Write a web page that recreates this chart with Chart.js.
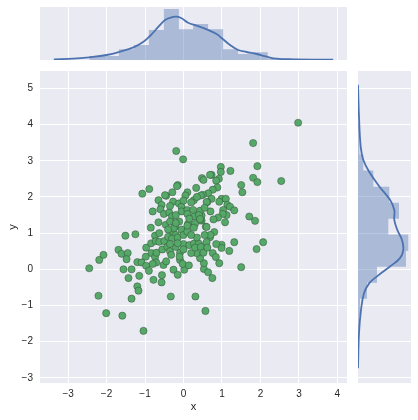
<!DOCTYPE html>
<html>
<head>
<meta charset="utf-8">
<script src="https://cdn.jsdelivr.net/npm/chart.js@4/dist/chart.umd.min.js"></script>
<style>
  body { margin: 0; background: #fff; }
  #wrap { position: relative; width: 418px; height: 420px; }
  #wrap canvas { position: absolute; left: 0; top: 0; }
</style>
</head>
<body>
<div id="wrap">
  <canvas id="joint" width="418" height="420"></canvas>
  <canvas id="margX" width="418" height="420"></canvas>
  <canvas id="margY" width="418" height="420"></canvas>
</div>
<script>
// ---- dados ----
const pontosX = [2.98, 1.81, -0.19, -0.01, 1.92, 0.97, 0.97, 1.22, 0.73, 0.69, 0.48, 0.52, 0.92, 0.85, 1.81, 1.92, 2.54, 1.50, 1.53, 0.88,
  0.76, 0.64, 0.50, 0.73, 0.99, 1.10, 0.62, 0.93, 1.14, 1.21, 1.32, 1.03, 1.12, 1.02, 0.90, 1.08, 1.71, 1.86, 0.58, 0.47,
  0.47, -1.07, -0.89, -0.15, -0.17, -0.29, 0.10, 0.33, -0.45, -0.48, -0.65, -0.57, -0.27, -0.12, 0.05, 0.27, 0.45, 0.60, -0.60, -0.51,
  -0.37, -0.30, -0.05, -0.05, 0.10, 0.25, 0.43, 0.10, 0.28, 0.40, 0.43, -0.46, -0.35, -0.11, 0.12, 0.30, -0.22, 0.60, 0.80, 0.69,
  0.99, 0.99, 1.32, 1.19, 2.07, 1.90, 1.50, 0.57, 0.76, 0.84, 0.93, 0.53, 0.64, 0.75, -2.45, -2.19, -2.08, -2.21, -2.01, -1.59,
  -1.04, -1.69, -1.61, -1.45, -1.48, -1.51, -1.25, -1.56, -1.35, -1.43, -1.20, -1.17, -1.35, -1.15, -1.20, -1.09, -0.97, -0.98, -0.90, -0.78,
  -0.56, -0.57, -0.33, -0.26, -0.15, 0.02, -0.09, -0.02, 0.14, 0.31, 0.53, 0.43, 0.34, -0.97, -0.84, -0.83, -0.74, -0.70, -0.74, -0.63,
  -0.72, -0.63, -0.50, -0.55, -0.42, -0.35, -0.52, -0.71, -0.45, -0.32, -0.09, -0.28, -0.40, -0.25, -0.20, -0.05, -0.20, -0.30, -0.15, 0.00,
  -0.20, -0.35, 0.00, -0.15, 0.10, 0.10, 0.27, 0.43, 0.15, 0.27, 0.40, 0.20, 0.30, 0.45, 0.52, 0.60, 0.62, 0.70, 0.35, 0.55,
  -0.85, -0.65, -0.80, 0.00, -0.10, 0.85, 0.20, -0.35, 0.15, -0.20, 0.70, 0.78, 0.35, -0.80, 0.00, 0.55, -0.40, 0.20];
const pontosY = [4.05, 3.49, 3.27, 3.04, 2.85, 2.83, 2.69, 2.72, 2.61, 2.61, 2.52, 2.47, 2.50, 2.45, 2.53, 2.41, 2.44, 2.33, 2.13, 2.26,
  2.20, 2.10, 2.06, 1.95, 1.95, 1.95, 1.86, 1.87, 1.78, 1.73, 1.63, 1.64, 1.50, 1.53, 1.43, 1.30, 1.46, 1.34, 1.18, 1.49,
  1.35, 2.09, 2.22, 2.33, 2.30, 2.13, 2.13, 2.25, 2.03, 2.05, 1.91, 1.78, 1.87, 1.82, 2.04, 1.91, 2.04, 1.86, 1.66, 1.53,
  1.57, 1.46, 1.73, 1.60, 1.64, 1.64, 1.62, 1.53, 1.46, 1.50, 1.35, 1.23, 1.32, 1.32, 1.26, 1.26, 1.18, 1.17, 1.03, 0.89,
  0.68, 0.59, 0.75, 0.51, 0.75, 0.56, 0.06, -1.15, 0.45, 0.34, 0.17, 0.01, -0.08, -0.24, 0.03, 0.26, 0.40, -0.73, -1.21, -1.28,
  -1.70, 0.54, 0.43, 0.45, 0.28, 0.93, 0.97, 0.00, 0.00, -0.24, -0.47, -0.59, -0.81, -0.18, 0.20, 0.19, 0.10, 0.35, -0.04, -0.29,
  -0.16, -0.36, -0.75, -0.01, -0.15, -0.01, 0.26, 0.15, 0.11, -0.75, 0.17, 0.31, 0.45, 0.60, 0.72, 0.45, 0.34, 0.46, 0.93, 1.00,
  0.78, 0.76, 0.78, 0.55, 0.62, 0.50, 0.12, 0.19, 0.22, 0.40, 0.46, 1.02, 0.90, 1.14, 1.28, 1.10, 0.95, 0.85, 0.88, 0.95,
  0.62, 0.70, 0.70, 0.72, 1.04, 1.21, 1.15, 1.39, 0.67, 0.71, 0.71, 0.45, 0.60, 0.62, 0.46, 0.75, 0.60, 0.95, 0.88, 0.95,
  1.15, 1.30, 0.15, 0.55, 0.35, 0.70, 1.85, 1.75, 1.40, 1.50, 1.60, 1.38, 2.00, 1.60, 1.90, 1.70, 1.10, 0.95];

// histograma e KDE marginal de x
const binsX = [-2.45, -2.06, -1.68, -1.29, -0.90, -0.51, -0.12, 0.25, 0.64, 1.03, 1.42, 1.81, 2.19, 2.58, 2.98];
const densX = [0.04, 0.04, 0.107, 0.15, 0.30, 0.51, 0.307, 0.36, 0.307, 0.107, 0.06, 0.077, 0.013, 0.013];
const kdeGradeX = [-3.37, -2.86, -2.45, -2.0, -1.65, -1.30, -1.04, -0.87, -0.65, -0.48, -0.31, -0.18, -0.05, 0.12, 0.34, 0.60, 0.86, 1.03, 1.21, 1.42, 1.64, 1.90, 2.16, 2.42, 2.85, 3.89];
const kdeDensX = [0.007, 0.013, 0.027, 0.05, 0.083, 0.127, 0.183, 0.24, 0.333, 0.40, 0.427, 0.433, 0.417, 0.373, 0.343, 0.307, 0.26, 0.207, 0.15, 0.10, 0.08, 0.06, 0.033, 0.013, 0.007, 0.003];

// histograma e KDE marginal de y
const binsY = [-1.70, -1.26, -0.81, -0.37, 0.07, 0.51, 0.96, 1.40, 1.84, 2.28, 2.73, 3.17, 3.61, 4.05];
const densY = [0.015, 0.02, 0.09, 0.19, 0.48, 0.503, 0.303, 0.41, 0.313, 0.153, 0.053, 0.015, 0.015];
const kdeGradeY = [-2.73, -1.76, -1.12, -0.66, -0.38, -0.20, 0.08, 0.31, 0.54, 0.81, 1.09, 1.37, 1.64, 1.92, 2.29, 2.66, 3.02, 3.39, 4.22, 5.10];
const kdeDensY = [0, 0.01, 0.03, 0.06, 0.113, 0.187, 0.32, 0.42, 0.453, 0.44, 0.393, 0.363, 0.363, 0.32, 0.213, 0.12, 0.053, 0.027, 0.01, 0];

const limX = [-3.73, 4.25];
const limY = [-3.14, 5.48];
const limDens = 0.53;

// ---- estilo ----
const FUNDO = '#EAEAF2';
const AZUL = '#4C72B0';
const AZUL_HIST = 'rgba(76,114,176,0.4)';
const VERDE = '#55A868';
const TEXTO = '#262626';
const FONTE = "'Liberation Sans', Arial, sans-serif";

const fundoPlugin = {
  id: 'fundo',
  beforeDraw(chart) {
    const a = chart.chartArea;
    const ctx = chart.ctx;
    ctx.save();
    ctx.fillStyle = FUNDO;
    ctx.fillRect(a.left, a.top, a.right - a.left, a.bottom - a.top);
    ctx.restore();
  }
};

const menos = v => String(v).replace('-', '\u2212');
const grade = { color: '#ffffff', lineWidth: 1, drawTicks: false };

// ===== gráfico principal (dispersão) =====
new Chart(document.getElementById('joint'), {
  type: 'scatter',
  data: {
    datasets: [{
      data: pontosX.map((x, i) => ({ x: x, y: pontosY[i] })),
      backgroundColor: VERDE,
      borderColor: 'rgba(45,70,50,0.75)',
      borderWidth: 0.6,
      pointRadius: 3.6
    }]
  },
  options: {
    responsive: false,
    animation: false,
    layout: { padding: { left: 0, top: 71, right: 71, bottom: 0 } },
    plugins: { legend: { display: false }, tooltip: { enabled: false } },
    scales: {
      x: {
        type: 'linear', min: limX[0], max: limX[1],
        grid: grade, border: { display: false },
        ticks: { stepSize: 1, includeBounds: false, padding: 5, color: TEXTO, font: { family: FONTE, size: 10 }, callback: menos },
        title: { display: true, text: 'x', color: TEXTO, padding: 6, font: { family: FONTE, size: 11 } },
        afterFit(s) { s.height = 37; }
      },
      y: {
        type: 'linear', min: limY[0], max: limY[1],
        grid: grade, border: { display: false },
        ticks: { stepSize: 1, includeBounds: false, padding: 7, color: TEXTO, font: { family: FONTE, size: 10 }, callback: menos },
        title: { display: true, text: 'y', color: TEXTO, padding: 6, font: { family: FONTE, size: 11 } },
        afterFit(s) { s.width = 40; }
      }
    }
  },
  plugins: [fundoPlugin]
});

// ===== marginal de x (topo) =====
new Chart(document.getElementById('margX'), {
  type: 'line',
  data: {
    datasets: [{
      data: kdeGradeX.map((x, i) => ({ x: x, y: kdeDensX[i] })),
      borderColor: AZUL, borderWidth: 1.8, pointRadius: 0, tension: 0.4, fill: false
    }, {
      data: binsX.map((e, i) => ({ x: e, y: densX[Math.min(i, densX.length - 1)] })),
      borderWidth: 0, pointRadius: 0, stepped: 'before',
      backgroundColor: AZUL_HIST, fill: 'origin'
    }]
  },
  options: {
    responsive: false,
    animation: false,
    layout: { padding: { left: 40, top: 7, right: 71, bottom: 360 } },
    plugins: { legend: { display: false }, tooltip: { enabled: false } },
    scales: {
      x: {
        type: 'linear', min: limX[0], max: limX[1],
        grid: grade, border: { display: false },
        ticks: { stepSize: 1, includeBounds: false, display: false },
        afterFit(s) { s.height = 0; }
      },
      y: { type: 'linear', min: 0, max: limDens, display: false }
    }
  },
  plugins: [fundoPlugin]
});

// ===== marginal de y (direita) =====
new Chart(document.getElementById('margY'), {
  type: 'line',
  data: {
    datasets: [{
      data: kdeGradeY.map((y, i) => ({ x: kdeDensY[i], y: y })),
      borderColor: AZUL, borderWidth: 1.8, pointRadius: 0, tension: 0.4, fill: false
    }, {
      data: binsY.map((e, i) => ({ x: densY[Math.min(i, densY.length - 1)], y: e })),
      borderWidth: 0, pointRadius: 0, stepped: 'after',
      backgroundColor: AZUL_HIST, fill: 'origin'
    }]
  },
  options: {
    indexAxis: 'y',
    responsive: false,
    animation: false,
    layout: { padding: { left: 358, top: 71, right: 7, bottom: 37 } },
    plugins: { legend: { display: false }, tooltip: { enabled: false } },
    scales: {
      x: { type: 'linear', min: 0, max: limDens, display: false },
      y: {
        type: 'linear', min: limY[0], max: limY[1],
        grid: grade, border: { display: false },
        ticks: { stepSize: 1, includeBounds: false, display: false },
        afterFit(s) { s.width = 0; }
      }
    }
  },
  plugins: [fundoPlugin]
});
</script>
</body>
</html>
